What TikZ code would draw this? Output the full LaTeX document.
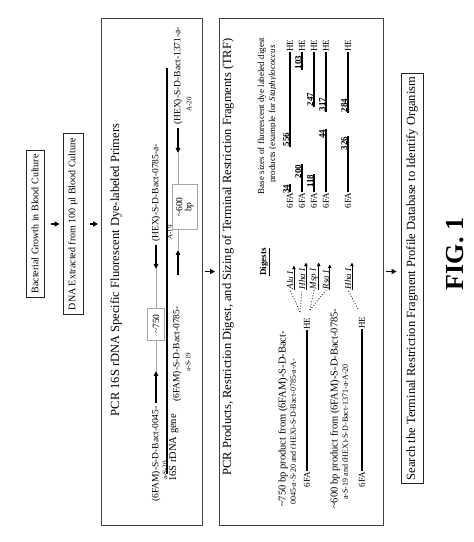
\documentclass[tikz,border=0pt]{standalone}
\usepackage{fontspec}
\setmainfont{Liberation Serif}
\usetikzlibrary{arrows.meta,calc}
\tikzset{
 stepbox/.style={draw=black!85, line width=0.8pt, inner xsep=4pt, inner ysep=2pt, font=\fontsize{10}{12}\selectfont},
 bigbox/.style={draw=black!75, line width=0.9pt},
 ttl/.style={font=\fontsize{12.5}{14}\selectfont, inner sep=0pt},
 lbl/.style={font=\fontsize{9.5}{11}\selectfont, inner sep=0pt},
 genelbl/.style={font=\fontsize{10.5}{12}\selectfont, inner sep=0pt},
 tinylbl/.style={font=\fontsize{7}{8}\selectfont, inner sep=0pt},
 plbl/.style={font=\fontsize{10.5}{12}\selectfont, inner sep=0pt},
 smlbl/.style={font=\fontsize{8}{9}\selectfont, inner sep=0pt},
 dlbl/.style={font=\fontsize{9}{10}\selectfont, inner sep=0.5pt},
 num/.style={font=\bfseries\fontsize{9}{10}\selectfont, inner sep=0.6pt},
 enz/.style={font=\itshape\fontsize{9}{10}\selectfont, inner sep=0.6pt},
 steparrow/.style={-{Triangle[length=5pt,width=5pt]}, line width=1.3pt},
 parrow/.style={-{Triangle[length=5pt,width=4.5pt]}, line width=1.1pt},
 uarrow/.style={-{Triangle[length=3.5pt,width=3.5pt]}, line width=0.7pt},
 gline/.style={draw=black!35, line width=0.7pt},
 gbox/.style={draw=black!35, line width=0.7pt, fill=white, font=\fontsize{9.5}{10}\selectfont, inner sep=1pt},
 geneline/.style={line width=2.4pt},
 frag/.style={line width=1.3pt},
 dots/.style={dotted, line width=0.8pt},
}
\begin{document}
\begin{tikzpicture}[x=1pt,y=1pt]
\useasboundingbox (0,0) rectangle (474,542);
\begin{scope}[rotate=90, transform shape]
% ---------- step boxes
\node[stepbox, minimum height=18pt] (b1) at (318,-35) {Bacterial Growth in Blood Culture};
\node[stepbox, minimum height=20pt] (b2) at (318,-73) {DNA Extracted from 100 µl Blood Culture};
\draw[steparrow, shorten <=7pt, shorten >=3pt] (b1.south) -- (b2.north);

% ---------- box 3
\node[bigbox, minimum width=507pt, minimum height=101pt] (b3) at (270.5,-151.5) {};
\coordinate (s2) at (318,-101);
\draw[steparrow, shorten <=7pt, shorten >=3pt] (b2.south) -- (s2);
\node[ttl] (t3) at (272,-116) {PCR 16S rDNA Specific Fluorescent Dye-labeled Primers};

\node[tinylbl, anchor=west] (p1b) at (62,-165) {a-S-20};
\node[tinylbl, anchor=west] (p2b) at (302,-170) {A-19};

\node[lbl, anchor=west] (p1) at (40,-156) {(6FAM)-S-D-Bact-0045-};
\coordinate (a1s) at (139,-156);
\coordinate (a1e) at (171,-156);
\draw[parrow] (a1s) -- (a1e);
\node[gbox, minimum width=32pt, minimum height=17pt] (m750) at (218,-156) {\textasciitilde750};
\draw[gline] (a1e) -- (m750.west);
\node[lbl, anchor=west] (p2) at (300,-156) {(HEX)-S-D-Bact-0785-a-};
\coordinate (a2s) at (297,-156);
\coordinate (a2e) at (273,-156);
\draw[gline] (m750.east) -- (a2e);
\draw[parrow] (a2s) -- (a2e);

\node[lbl, anchor=west] (p3) at (140,-177) {(6FAM)-S-D-Bact-0785-};
\node[tinylbl] (p3b) at (180,-188) {a-S-19};
\coordinate (a3s) at (267,-178);
\coordinate (a3e) at (292,-178);
\draw[parrow] (a3s) -- (a3e);
\node[gbox, minimum width=45pt, minimum height=25pt, align=center, anchor=north west] (m600) at (312,-172) {\textasciitilde600\\[-1pt]bp};
\coordinate (m6w) at (312,-178);
\coordinate (m6e) at (357,-178);
\draw[gline] (a3e) -- (m6w);
\coordinate (a4e) at (389,-178);
\coordinate (a4s) at (414,-178);
\draw[gline] (m6e) -- (a4e);
\draw[parrow] (a4s) -- (a4e);
\node[lbl, anchor=west] (p4) at (417,-178) {(HEX)-S-D-Bact-1371-a-};
\node[tinylbl, anchor=west] (p4b) at (430,-189) {A-20};

\node[genelbl, anchor=north west] (gene) at (60,-169) {16S rDNA gene};
\coordinate (g1) at (68,-167);
\coordinate (g2) at (474,-167);
\draw[geneline] (g1) -- (g2);

% ---------- box 4
\node[bigbox, minimum width=507pt, minimum height=164pt] (b4) at (270.5,-301) {};
\coordinate (s3) at (270.5,-202);
\coordinate (s3e) at (270.5,-219);
\draw[steparrow, shorten <=3pt, shorten >=4pt] (s3) -- (s3e);
\node[ttl] (t4) at (285,-228) {PCR Products, Restriction Digest, and Sizing of Terminal Restriction Fragments (TRF)};

\node[dlbl] (bs1) at (426,-262) {Base sizes of fluorescent dye labeled digest};
\begin{scope}
\clip (340,-267) rectangle (510,-275);
\node[dlbl] (bs2) at (428,-273) {products (example for \textit{Staphylococcus}};
\end{scope}

\node[num] (dg) at (280,-265) {\underline{Digests}};

\node[enz, anchor=west] (e1) at (252,-290) {Alu I};
\node[enz, anchor=west] (e2) at (252,-302) {Hha I};
\node[enz, anchor=west] (e3) at (252,-314) {Msp I};
\node[enz, anchor=west] (e4) at (252,-326) {Rsa I};
\node[enz, anchor=west] (e5) at (252,-348) {Hha I};
\draw[uarrow] (e1.south west) -- ($(e1.south east)+(5,0)$);
\draw[uarrow] (e2.south west) -- ($(e2.south east)+(5,0)$);
\draw[uarrow] (e3.south west) -- ($(e3.south east)+(5,0)$);
\draw[uarrow] (e4.south west) -- ($(e4.south east)+(5,0)$);
\draw[uarrow] (e5.south west) -- ($(e5.south east)+(5,0)$);

% digest rows
\node[dlbl, anchor=west] (f1) at (333,-290) {6FA};
\node[dlbl, anchor=east] (h1) at (503,-290) {HE};
\coordinate (l1) at (358,-290); \coordinate (r1) at (395,-290);
\draw[frag] (f1.east) -- (l1); \draw[frag] (r1) -- (h1.west);
\node[num, anchor=south east] (n1a) at (l1) {34};
\node[num, anchor=south west] (n1b) at (r1) {556};

\node[dlbl, anchor=west] (f2) at (333,-302) {6FA};
\node[dlbl, anchor=east] (h2) at (503,-302) {HE};
\coordinate (l2) at (378,-302); \coordinate (r2) at (472,-302);
\draw[frag] (f2.east) -- (l2); \draw[frag] (r2) -- (h2.west);
\node[num, anchor=south east] (n2a) at (l2) {200};
\node[num, anchor=south west] (n2b) at (r2) {103};

\node[dlbl, anchor=west] (f3) at (333,-314) {6FA};
\node[dlbl, anchor=east] (h3) at (503,-314) {HE};
\coordinate (l3) at (368,-314); \coordinate (r3) at (435,-314);
\draw[frag] (f3.east) -- (l3); \draw[frag] (r3) -- (h3.west);
\node[num, anchor=south east] (n3a) at (l3) {118};
\node[num, anchor=south west] (n3b) at (r3) {247};

\node[dlbl, anchor=west] (f4) at (333,-326) {6FA};
\node[dlbl, anchor=east] (h4) at (503,-326) {HE};
\coordinate (l4) at (413,-326); \coordinate (r4) at (430,-326);
\draw[frag] (f4.east) -- (l4); \draw[frag] (r4) -- (h4.west);
\node[num, anchor=south east] (n4a) at (l4) {44};
\node[num, anchor=south west] (n4b) at (r4) {317};

\node[dlbl, anchor=west] (f5) at (333,-348) {6FA};
\node[dlbl, anchor=east] (h5) at (503,-348) {HE};
\coordinate (l5) at (406,-348); \coordinate (r5) at (429,-348);
\draw[frag] (f5.east) -- (l5); \draw[frag] (r5) -- (h5.west);
\node[num, anchor=south east] (n5a) at (l5) {326};
\node[num, anchor=south west] (n5b) at (r5) {284};

% products
\node[plbl, anchor=west] (q1) at (35,-283) {\textasciitilde750 bp product from (6FAM)-S-D-Bact-};
\begin{scope}
\clip (30,-289) rectangle (245,-295);
\node[smlbl, anchor=west] (q2) at (37,-294) {0045-a-S-20 and (HEX)-S-D-Bact-0785-a-A-};
\end{scope}
\node[dlbl, anchor=west] (q1f) at (54,-307) {6FA};
\node[dlbl, anchor=east] (q1h) at (225,-307) {HE};
\draw[frag] (q1f.east) -- (q1h.west);

\node[plbl, anchor=west] (q3) at (33,-335) {\textasciitilde600 bp product from (6FAM)-S-D-Bact-0785-};
\begin{scope}
\clip (30,-341) rectangle (245,-347);
\node[smlbl, anchor=west] (q4) at (42,-346) {a-S-19 and (HEX)-S-D-Bact-1371-a-A-20};
\end{scope}
\node[dlbl, anchor=west] (q3f) at (54,-362) {6FA};
\node[dlbl, anchor=east] (q3h) at (226,-362) {HE};
\draw[frag] (q3f.east) -- (q3h.west);

\coordinate (d1) at (230,-300);
\coordinate (d2) at (232,-310);
\coordinate (d3) at (233,-358);
\draw[dots] (d1) -- (e1.west);
\draw[dots] (d1) -- (e2.west);
\draw[dots] (d2) -- (e3.west);
\draw[dots] (d2) -- (e4.west);
\draw[dots] (d3) -- (e5.west);

% ---------- box 5
\node[stepbox, font=\fontsize{12.5}{14}\selectfont, minimum height=22pt, inner xsep=3pt] (b5) at (263.5,-412) {Search the Terminal Restriction Fragment Profile Database to Identify Organism};
\coordinate (s4) at (270.5,-383);
\draw[steparrow, shorten <=3pt, shorten >=4pt] (s4) -- (s4 |- b5.north);
\node[font=\bfseries\fontsize{26}{30}\selectfont, inner sep=0pt] (fig) at (288,-455) {FIG. 1};
\end{scope}
\end{tikzpicture}
\end{document}
